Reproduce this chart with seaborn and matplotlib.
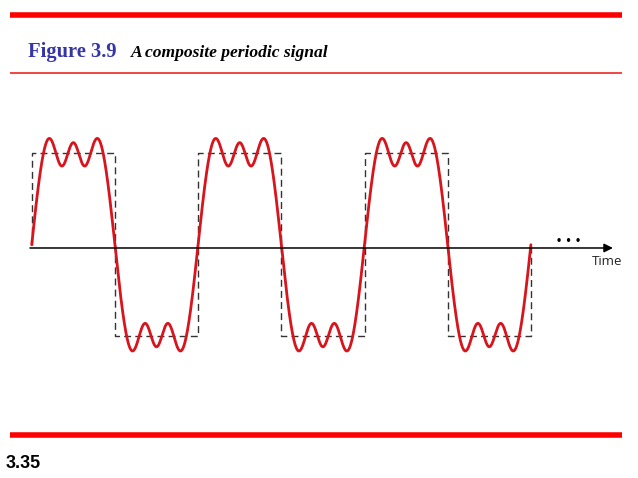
import numpy as np
import pandas as pd
import matplotlib
matplotlib.use("Agg")
import matplotlib.pyplot as plt
from matplotlib.lines import Line2D
import seaborn as sns

sns.set_style("white")

# ------------------------------------------------------------
# data: harmonic content of the composite signal (read off the
# ripple positions / heights of the drawing)
# ------------------------------------------------------------
harmonics = [1, 3, 5, 7, 9]
amplitudes = [1.252, 0.377, 0.144, -0.080, 0.019]
n_periods = 3

# ideal square wave it approximates: one level per half period
square_edges = [0.0, 0.5, 1.0, 1.5, 2.0, 2.5, 3.0]
square_levels = [1, -1, 1, -1, 1, -1]

title_fig = "Figure 3.9"
title_text = "A composite periodic signal"
axis_label = "Time"
slide_no = "3.35"

# ------------------------------------------------------------
# build frames
# ------------------------------------------------------------
t = np.linspace(0, n_periods, 3000)
signal = np.zeros_like(t)
for k, a in zip(harmonics, amplitudes):
    signal += a * np.sin(2 * np.pi * k * t)
sig_df = pd.DataFrame({"t": t, "v": signal})

sq_t, sq_v = [square_edges[0]], [0.0]
for i, lvl in enumerate(square_levels):
    sq_t += [square_edges[i], square_edges[i + 1]]
    sq_v += [lvl, lvl]
sq_t.append(square_edges[-1])
sq_v.append(0.0)
sq_df = pd.DataFrame({"t": sq_t, "v": sq_v})

# ------------------------------------------------------------
# figure
# ------------------------------------------------------------
fig = plt.figure(figsize=(6.38, 4.78), dpi=100)
ax = fig.add_axes([0, 0, 1, 1])
ax.set_xlim(-0.1905, 3.6436)
ax.set_ylim(-2.555, 2.680)
ax.axis("off")

axis_y = -0.036

# time axis with arrow
ax.annotate("", xy=(3.493, axis_y), xytext=(-0.0102, axis_y),
            arrowprops=dict(arrowstyle="-|>", color="black", lw=1.1,
                            mutation_scale=13, shrinkA=0, shrinkB=0))

sns.lineplot(data=sq_df, x="t", y="v", sort=False, estimator=None, ax=ax,
             color="#333333", lw=1.0, linestyle=(0, (5, 3)))
sns.lineplot(data=sig_df, x="t", y="v", sort=False, estimator=None, ax=ax,
             color="#d8141c", lw=2.0)

ax.text(3.229, 0.045, "• • •", ha="center", va="center", fontsize=7,
        color="black", fontweight="bold")
ax.text(3.46, -0.186, axis_label, ha="center", va="center", fontsize=9.5,
        family="Open Sans", color="#222222")

# slide decorations
fig.add_artist(Line2D([0.0157, 0.975], [0.9676, 0.9676], color="#ff0000",
                      lw=4.0, transform=fig.transFigure, solid_capstyle="butt"))
fig.add_artist(Line2D([0.0157, 0.975], [0.8473, 0.8473], color="#ee1111",
                      lw=1.1, transform=fig.transFigure, solid_capstyle="butt"))
fig.add_artist(Line2D([0.0157, 0.975], [0.091, 0.091], color="#ff0000",
                      lw=4.0, transform=fig.transFigure, solid_capstyle="butt"))

fig.text(0.044, 0.8808, title_fig, ha="left", va="baseline", fontsize=14.8,
         family="Liberation Serif", fontweight="bold", color="#3535a8")
fig.text(0.205, 0.8808, title_text, ha="left", va="baseline", fontsize=12.6,
         family="Liberation Serif", fontweight="bold", style="italic",
         color="black")
fig.text(0.0094, 0.0295, slide_no, ha="left", va="center", fontsize=13,
         family="Liberation Sans", fontweight="bold", color="black")

fig.savefig("out.png", dpi=100)
